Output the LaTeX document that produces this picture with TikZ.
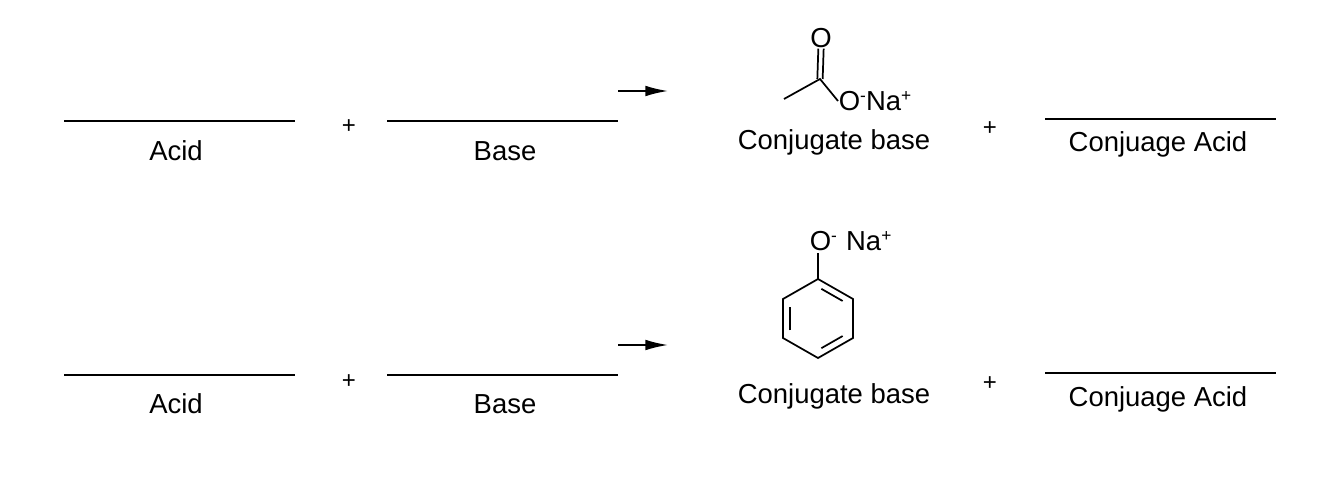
\documentclass[tikz,border=0pt]{standalone}
\usepackage{fontspec}
\setmainfont{Liberation Sans}
\usetikzlibrary{arrows.meta,calc}
\begin{document}
\begin{tikzpicture}[x=0.75pt,y=-0.75pt,line width=1.3pt,
  lbl/.style={font=\fontsize{20.6}{22}\selectfont,inner sep=0pt},
  sm/.style={font=\fontsize{18}{20}\selectfont,inner sep=0pt},
  blank/.style={line width=1.3pt}]
\useasboundingbox (0,0) rectangle (1340,489);
\foreach \r/\ly/\ty/\cy/\cly/\py/\ay in {1/121/151/142/144/127/91, 2/375/404/396/399/382/345}{
  \coordinate (a1\r) at (64,\ly); \coordinate (a2\r) at (295,\ly);
  \coordinate (b1\r) at (387,\ly); \coordinate (b2\r) at (618,\ly);
  \coordinate (c1\r) at (1045,\ly-2); \coordinate (c2\r) at (1276,\ly-2);
  \draw[blank] (a1\r) -- (a2\r); \draw[blank] (b1\r) -- (b2\r); \draw[blank] (c1\r) -- (c2\r);
  \node[lbl] (acid\r) at (176,\ty) {Acid};
  \node[lbl] (base\r) at (505,\ty) {Base};
  \node[lbl] (cb\r) at (834,\cy) {Conjugate base};
  \node[lbl] (ca\r) at (1158,\cly) {Conjuage Acid};
  \node[sm] (p1\r) at (349,\py) {+};
  \node[sm] (p2\r) at (990,\py+2) {+};
  \coordinate (s\r) at (618,\ay); \coordinate (e\r) at (668,\ay);
  \draw[-{Latex[length=17pt,width=8pt]}] (s\r) -- (e\r);
}
% acetate
\coordinate (me) at (784,99); \coordinate (cc) at (820,79);
\node[lbl] (ot) at (821,38) {O};
\node[lbl,anchor=west] (om) at (838,101) {O\raisebox{0.6ex}{\fontsize{13}{13}\selectfont -}Na\raisebox{0.6ex}{\fontsize{13}{13}\selectfont +}};
\draw (me) -- (cc) -- (om.west);
\draw ([xshift=-2pt]cc) -- ([xshift=-2pt]ot.south);
\draw ([xshift=2pt]cc) -- ([xshift=2pt]ot.south);
% phenoxide
\node[lbl,anchor=west] (o2) at (809,241) {O\raisebox{0.6ex}{\fontsize{13}{13}\selectfont -}\,\,Na\raisebox{0.6ex}{\fontsize{13}{13}\selectfont +}};
\coordinate (r1) at (818,279); \coordinate (r2) at (853,299); \coordinate (r3) at (853,338);
\coordinate (r4) at (818,358); \coordinate (r5) at (783,338); \coordinate (r6) at (783,299);
\coordinate (rc) at (818,318.5);
\draw (818,253) -- (r1);
\draw (r1) -- (r2) -- (r3) -- (r4) -- (r5) -- (r6) -- cycle;
\foreach \u/\v in {r1/r2, r3/r4, r5/r6}{
  \coordinate (iu) at ($(\u)!0.2!(rc)$);
  \coordinate (iv) at ($(\v)!0.2!(rc)$);
  \draw ($(iu)!0.12!(iv)$) -- ($(iv)!0.12!(iu)$);
}
\end{tikzpicture}
\end{document}
